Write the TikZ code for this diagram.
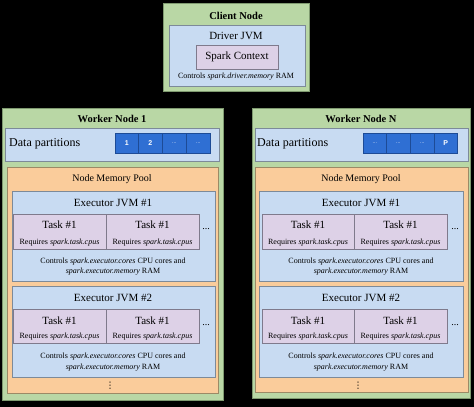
\documentclass[tikz,border=0pt]{standalone}
\usepackage{fontspec}
\setmainfont{Liberation Serif}
\setsansfont{Liberation Sans}
\newfontfamily\dvfont{DejaVu Sans}
\definecolor{cgreen}{HTML}{B9D7A5}
\definecolor{cgreenb}{HTML}{7F9A70}
\definecolor{cblue}{HTML}{C8DBF2}
\definecolor{cblueb}{HTML}{7D8A99}
\definecolor{corange}{HTML}{FACC9B}
\definecolor{corangeb}{HTML}{9C8A66}
\definecolor{cpurple}{HTML}{DDD1E7}
\definecolor{cpurpleb}{HTML}{7F7A8C}
\definecolor{csq}{HTML}{2F6FD3}
\definecolor{csqb}{HTML}{1D4B96}
\newcommand\bxn[6]{\node[#2, anchor=north west, minimum width={(#5-#3)*1pt}, minimum height={(#6-#4)*1pt}, inner sep=0pt] (#1) at (#3pt,-#4pt) {};}
\newcommand\fs[1]{\fontsize{#1}{#1}\selectfont}
\begin{document}
\begin{tikzpicture}[
  greenbox/.style={draw=cgreenb, fill=cgreen, line width=0.7pt},
  bluebox/.style={draw=cblueb, fill=cblue, line width=0.7pt},
  orangebox/.style={draw=corangeb, fill=corange, line width=0.7pt},
  purplebox/.style={draw=cpurpleb, fill=cpurple, line width=0.7pt},
  sqbox/.style={draw=csqb, fill=csq, line width=0.6pt},
  sqtext/.style={text=white, font=\sffamily\bfseries\fs{7}},
  sqdots/.style={text=white, font=\sffamily\fs{5}},
  title/.style={font=\bfseries\fs{10.5}, inner sep=0pt},
  lab/.style={font=\fs{11}, inner sep=0pt},
  small/.style={font=\fs{8}, inner sep=0pt},
  dots/.style={font=\fs{10}, inner sep=0pt},
  vdotsty/.style={font=\dvfont\fs{9}, inner sep=0pt}
]
\useasboundingbox (0,0) rectangle (474pt,-407pt);
\fill[black] (0,0) rectangle (474pt,-407pt);

% Client node
\bxn{client}{greenbox}{163}{3}{309}{91}
\bxn{driver}{bluebox}{169}{25}{305}{86}
\bxn{spark}{purplebox}{196}{45}{278}{69}
\node[title] (tclient) at (236pt,-16pt) {Client Node};
\node[lab] (tdriver) at (236pt,-36pt) {Driver JVM};
\node[lab] (tspark) at (237pt,-57pt) {Spark Context};
\node[small] (tdmem) at (236pt,-77pt) {Controls \textit{spark.driver.memory} RAM};

% Worker node 1
\bxn{wa}{greenbox}{2}{108}{223}{400}
\bxn{wadata}{bluebox}{5}{128}{219}{161}
\bxn{wasq1}{sqbox}{115}{133}{138}{153}
\bxn{wasq2}{sqbox}{138}{133}{162}{153}
\bxn{wasq3}{sqbox}{162}{133}{186}{153}
\bxn{wasq4}{sqbox}{186}{133}{210}{153}
\node[sqtext] at (wasq1) {1};
\node[sqtext] at (wasq2) {2};
\node[sqdots] at (wasq3) {...};
\node[sqdots] at (wasq4) {...};
\bxn{wapool}{orangebox}{7}{167}{218}{393}
\bxn{waexa}{bluebox}{12}{191}{215}{281}
\bxn{waexat1}{purplebox}{13}{214}{106}{249}
\bxn{waexat2}{purplebox}{106}{214}{199}{249}
\bxn{waexb}{bluebox}{12}{286}{215}{377}
\bxn{waexbt1}{purplebox}{13}{309}{106}{343}
\bxn{waexbt2}{purplebox}{106}{309}{199}{343}
\node[title] (twa) at (112pt,-119pt) {Worker Node 1};
\node[font=\fs{12}, inner sep=0pt, anchor=west] (twadata) at (9pt,-144pt) {Data partitions};
\node[font=\fs{10}, inner sep=0pt] (twapool) at (112pt,-179pt) {Node Memory Pool};
\node[lab] (twaexa) at (113pt,-203pt) {Executor JVM \#1};
\node[lab] at (59.5pt,-225pt) {Task \#1};
\node[small] at (59.5pt,-243pt) {Requires \textit{spark.task.cpus}};
\node[lab] at (152.5pt,-225pt) {Task \#1};
\node[small] at (152.5pt,-243pt) {Requires \textit{spark.task.cpus}};
\node[dots] at (206pt,-229pt) {...};
\node[small] at (113pt,-262pt) {Controls \textit{spark.executor.cores} CPU cores and};
\node[small] at (113pt,-272pt) {\textit{spark.executor.memory} RAM};
\node[lab] (twaexb) at (113pt,-298pt) {Executor JVM \#2};
\node[lab] at (59.5pt,-321pt) {Task \#1};
\node[small] at (59.5pt,-337pt) {Requires \textit{spark.task.cpus}};
\node[lab] at (152.5pt,-321pt) {Task \#1};
\node[small] at (152.5pt,-337pt) {Requires \textit{spark.task.cpus}};
\node[dots] at (206pt,-325pt) {...};
\node[small] at (113pt,-357pt) {Controls \textit{spark.executor.cores} CPU cores and};
\node[small] at (113pt,-368pt) {\textit{spark.executor.memory} RAM};
\node[vdotsty] at (110pt,-386pt) {⋮};

% Worker node N
\bxn{wn}{greenbox}{252}{108}{470}{398}
\bxn{wndata}{bluebox}{255}{128}{468}{161}
\bxn{wnsq1}{sqbox}{363}{133}{386}{153}
\bxn{wnsq2}{sqbox}{386}{133}{410}{153}
\bxn{wnsq3}{sqbox}{410}{133}{434}{153}
\bxn{wnsq4}{sqbox}{434}{133}{457}{153}
\node[sqdots] at (wnsq1) {...};
\node[sqdots] at (wnsq2) {...};
\node[sqdots] at (wnsq3) {...};
\node[sqtext] at (wnsq4) {P};
\bxn{wnpool}{orangebox}{255}{167}{468}{392}
\bxn{wnexa}{bluebox}{259}{191}{463}{281}
\bxn{wnexat1}{purplebox}{262}{214}{354}{249}
\bxn{wnexat2}{purplebox}{354}{214}{447}{249}
\bxn{wnexb}{bluebox}{259}{286}{463}{377}
\bxn{wnexbt1}{purplebox}{262}{309}{354}{343}
\bxn{wnexbt2}{purplebox}{354}{309}{447}{343}
\node[title] (twn) at (361pt,-119pt) {Worker Node N};
\node[font=\fs{12}, inner sep=0pt, anchor=west] (twndata) at (257pt,-144pt) {Data partitions};
\node[font=\fs{10}, inner sep=0pt] (twnpool) at (361pt,-179pt) {Node Memory Pool};
\node[lab] (twnexa) at (361pt,-203pt) {Executor JVM \#1};
\node[lab] at (308pt,-225pt) {Task \#1};
\node[small] at (308pt,-243pt) {Requires \textit{spark.task.cpus}};
\node[lab] at (400.5pt,-225pt) {Task \#1};
\node[small] at (400.5pt,-243pt) {Requires \textit{spark.task.cpus}};
\node[dots] at (455pt,-229pt) {...};
\node[small] at (361pt,-262pt) {Controls \textit{spark.executor.cores} CPU cores and};
\node[small] at (361pt,-272pt) {\textit{spark.executor.memory} RAM};
\node[lab] (twnexb) at (361pt,-298pt) {Executor JVM \#2};
\node[lab] at (308pt,-321pt) {Task \#1};
\node[small] at (308pt,-337pt) {Requires \textit{spark.task.cpus}};
\node[lab] at (400.5pt,-321pt) {Task \#1};
\node[small] at (400.5pt,-337pt) {Requires \textit{spark.task.cpus}};
\node[dots] at (455pt,-325pt) {...};
\node[small] at (361pt,-357pt) {Controls \textit{spark.executor.cores} CPU cores and};
\node[small] at (361pt,-368pt) {\textit{spark.executor.memory} RAM};
\node[vdotsty] at (358pt,-386pt) {⋮};
\end{tikzpicture}
\end{document}
